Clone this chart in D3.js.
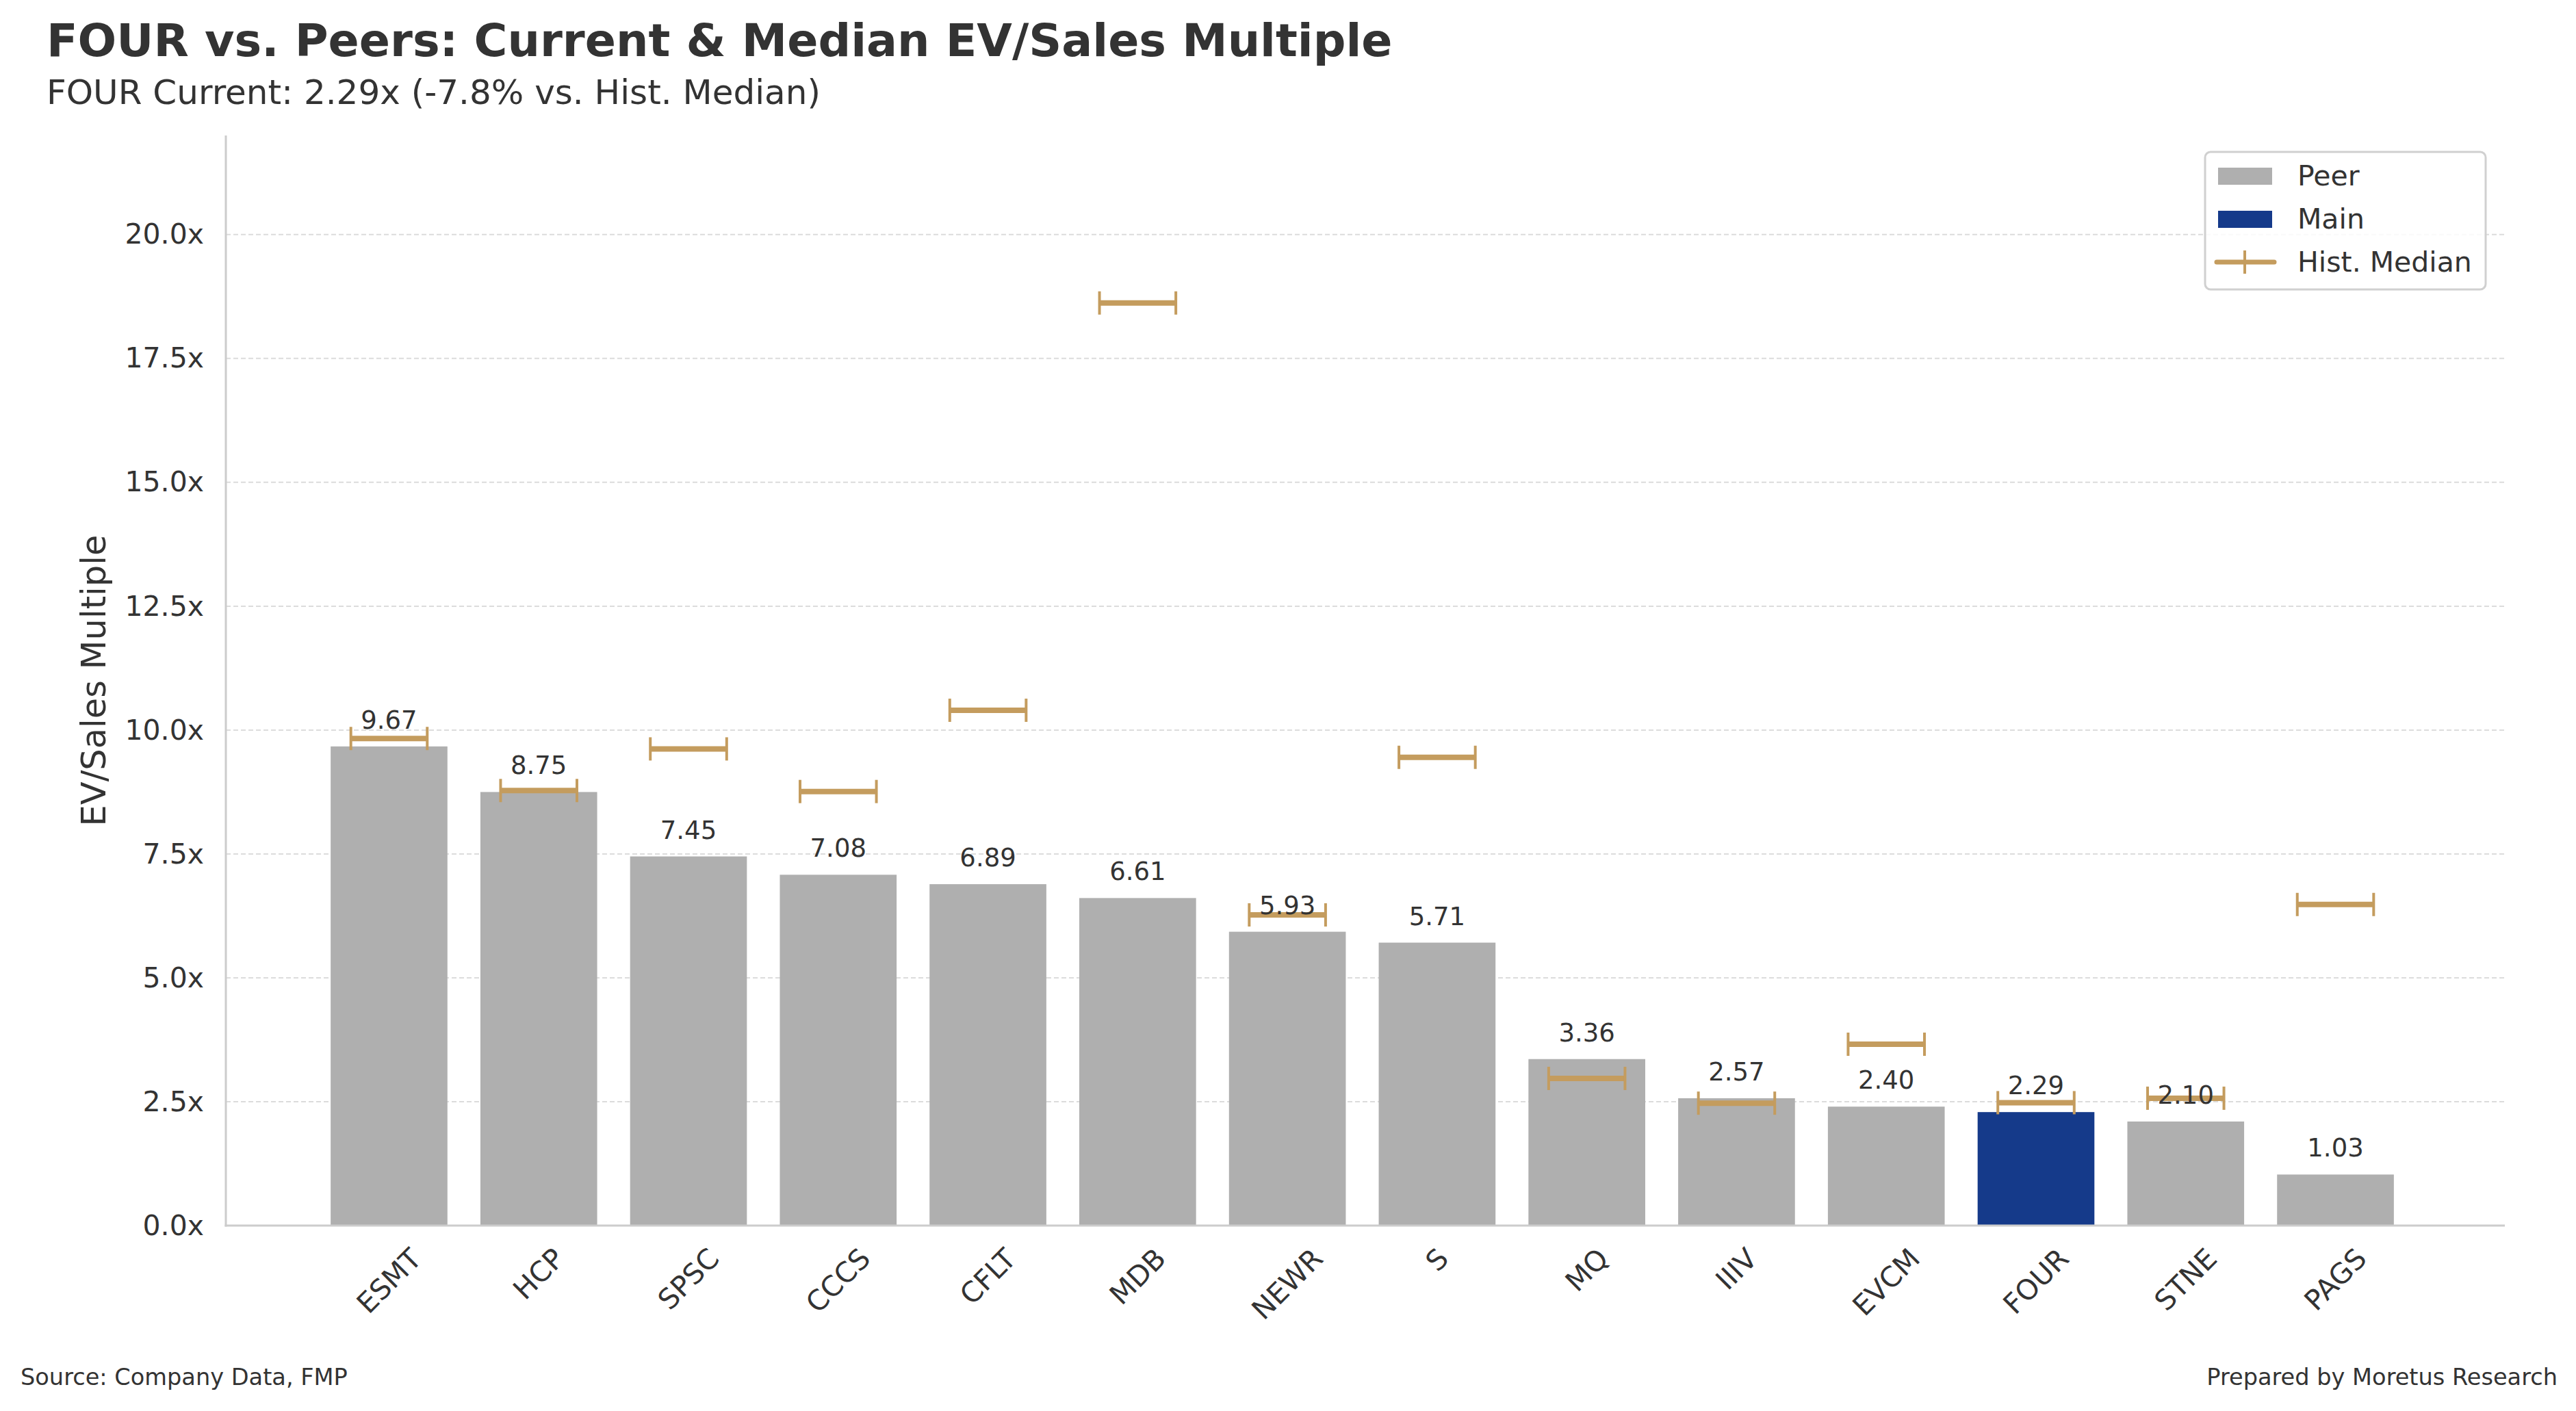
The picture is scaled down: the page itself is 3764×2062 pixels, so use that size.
<!DOCTYPE html>
<html>
<head>
<meta charset="utf-8">
<script src="https://cdn.jsdelivr.net/npm/d3@7"></script>
<style>
  body { margin: 0; background: #fff; }
  text { font-family: "DejaVu Sans", sans-serif; fill: #333; }
</style>
</head>
<body>
<script>
var width = 3764,
    height = 2062,
    margin = {top: 198, right: 104, bottom: 271, left: 330};

// data
var tickers = ["ESMT", "HCP", "SPSC", "CCCS", "CFLT", "MDB", "NEWR", "S", "MQ", "IIIV", "EVCM", "FOUR", "STNE", "PAGS"];
var current = [9.67, 8.75, 7.45, 7.08, 6.89, 6.61, 5.93, 5.71, 3.36, 2.57, 2.40, 2.29, 2.10, 1.03];
var histMedian = [9.83, 8.78, 9.62, 8.76, 10.40, 18.62, 6.27, 9.45, 2.97, 2.47, 3.66, 2.48, 2.57, 6.48];
var yTicks = [0, 2.5, 5, 7.5, 10, 12.5, 15, 17.5, 20];
var mainTicker = "FOUR";

var peerColor = "#afafaf",
    mainColor = "#153a8a",
    medColor = "#c49c5e";

var svg = d3.select("body").append("svg")
    .attr("width", width)
    .attr("height", height);

// band range stops a little short of the spine end (matplotlib xlim is not symmetric)
var x = d3.scaleBand()
    .domain(tickers)
    .range([margin.left, width - margin.right - 9])
    .paddingInner(0.22)
    .paddingOuter(0.7);

var y = d3.scaleLinear()
    .domain([0, 22])
    .range([height - margin.bottom, margin.top]);

// grid
svg.append("g").selectAll("line")
    .data(yTicks)
    .enter().append("line")
    .attr("x1", margin.left)
    .attr("x2", width - margin.right)
    .attr("y1", d => y(d))
    .attr("y2", d => y(d))
    .attr("stroke", "#dcdcdc")
    .attr("stroke-width", 2)
    .attr("stroke-dasharray", "7,4");

// bars
svg.append("g").selectAll("rect")
    .data(tickers)
    .enter().append("rect")
    .attr("x", d => x(d))
    .attr("width", x.bandwidth())
    .attr("y", (d, i) => y(current[i]))
    .attr("height", (d, i) => y(0) - y(current[i]))
    .attr("fill", d => d === mainTicker ? mainColor : peerColor);

// historical medians
var half = x.step() * 0.255;
var med = svg.append("g").selectAll("g")
    .data(tickers)
    .enter().append("g")
    .attr("transform", (d, i) => "translate(" + (x(d) + x.bandwidth() / 2) + "," + y(histMedian[i]) + ")");

med.append("line")
    .attr("x1", -half).attr("x2", half)
    .attr("stroke", medColor)
    .attr("stroke-width", 8);

med.selectAll(".cap")
    .data([-half, half])
    .enter().append("line")
    .attr("class", "cap")
    .attr("x1", d => d).attr("x2", d => d)
    .attr("y1", -17).attr("y2", 17)
    .attr("stroke", medColor)
    .attr("stroke-width", 4);

// value labels
svg.append("g").selectAll("text")
    .data(tickers)
    .enter().append("text")
    .attr("x", d => x(d) + x.bandwidth() / 2)
    .attr("y", (d, i) => y(current[i]) - 26)
    .attr("text-anchor", "middle")
    .style("font-size", "37px")
    .text((d, i) => current[i].toFixed(2));

// y axis
var yAxis = svg.append("g")
    .attr("transform", "translate(" + margin.left + ",0)")
    .call(d3.axisLeft(y).tickValues(yTicks).tickSize(0).tickPadding(32)
        .tickFormat(d => d3.format(".1f")(d) + "x"));
yAxis.select(".domain").remove();
yAxis.selectAll("text")
    .style("font-size", "41px")
    .style("font-family", "DejaVu Sans, sans-serif")
    .attr("fill", "#333");

// x axis labels, rotated 45 and centred on the bar
var xAxis = svg.append("g")
    .attr("transform", "translate(0," + y(0) + ")")
    .call(d3.axisBottom(x).tickSize(0).tickPadding(0));
xAxis.select(".domain").remove();
xAxis.selectAll("text")
    .style("font-size", "41px")
    .style("font-family", "DejaVu Sans, sans-serif")
    .attr("fill", "#333")
    .attr("text-anchor", "middle")
    .attr("dy", null)
    .attr("dominant-baseline", "central")
    .each(function() {
        var b = this.getBBox();
        var h = (b.width + b.height) * Math.SQRT1_2;
        d3.select(this)
            .attr("y", 0)
            .attr("transform", "translate(0," + (24 + h / 2) + ") rotate(-45)");
    });

// spines
svg.append("line")
    .attr("x1", margin.left).attr("x2", margin.left)
    .attr("y1", margin.top).attr("y2", y(0) + 1.5)
    .attr("stroke", "#cccccc").attr("stroke-width", 3);
svg.append("line")
    .attr("x1", margin.left - 1.5).attr("x2", width - margin.right)
    .attr("y1", y(0)).attr("y2", y(0))
    .attr("stroke", "#cccccc").attr("stroke-width", 3);

// y label
svg.append("text")
    .attr("transform", "translate(137," + ((margin.top + y(0)) / 2) + ") rotate(-90)")
    .attr("text-anchor", "middle")
    .attr("dominant-baseline", "central")
    .style("font-size", "49.5px")
    .text("EV/Sales Multiple");

// titles
svg.append("text")
    .attr("x", 68).attr("y", 82)
    .style("font-size", "66.7px")
    .style("font-weight", "bold")
    .text("FOUR vs. Peers: Current & Median EV/Sales Multiple");
svg.append("text")
    .attr("x", 68).attr("y", 152)
    .style("font-size", "50px")
    .text("FOUR Current: 2.29x (-7.8% vs. Hist. Median)");

// footer
svg.append("text")
    .attr("x", 30).attr("y", 2024)
    .style("font-size", "33.6px")
    .text("Source: Company Data, FMP");
svg.append("text")
    .attr("x", 3737).attr("y", 2024)
    .attr("text-anchor", "end")
    .style("font-size", "33.6px")
    .text("Prepared by Moretus Research");

// legend
var lg = svg.append("g").attr("transform", "translate(3222,222)");
lg.append("rect")
    .attr("width", 410).attr("height", 201)
    .attr("rx", 8)
    .attr("fill", "#fff").attr("fill-opacity", 0.85)
    .attr("stroke", "#d0d0d0").attr("stroke-width", 3);

var items = [
    {label: "Peer", type: "patch", color: peerColor},
    {label: "Main", type: "patch", color: mainColor},
    {label: "Hist. Median", type: "line", color: medColor}
];
var row = lg.selectAll(".item")
    .data(items)
    .enter().append("g")
    .attr("class", "item")
    .attr("transform", (d, i) => "translate(0," + (35 + i * 63) + ")");

row.filter(d => d.type === "patch").append("rect")
    .attr("x", 19).attr("y", -12)
    .attr("width", 79).attr("height", 25)
    .attr("fill", d => d.color);

var ln = row.filter(d => d.type === "line");
ln.append("line")
    .attr("x1", 17).attr("x2", 101)
    .attr("stroke", d => d.color)
    .attr("stroke-width", 7)
    .attr("stroke-linecap", "round");
ln.append("line")
    .attr("x1", 58).attr("x2", 58)
    .attr("y1", -17).attr("y2", 17)
    .attr("stroke", d => d.color)
    .attr("stroke-width", 4);

row.append("text")
    .attr("x", 135)
    .attr("dominant-baseline", "central")
    .style("font-size", "41px")
    .text(d => d.label);
</script>
</body>
</html>
